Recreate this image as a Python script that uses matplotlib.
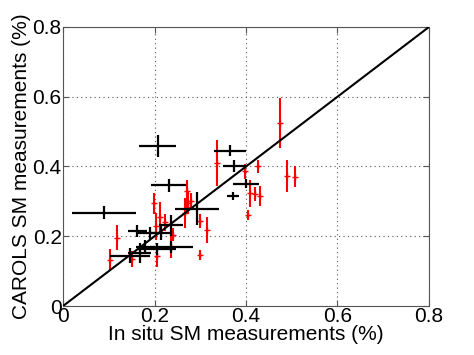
import matplotlib
matplotlib.use("Agg")
import matplotlib.pyplot as plt

plt.rcParams['font.family'] = ['Liberation Sans', 'DejaVu Sans']

# black crosses: in situ vs CAROLS with error in both directions
blk_x = [0.207, 0.365, 0.374, 0.231, 0.400, 0.372, 0.090, 0.292, 0.162,
         0.190, 0.215, 0.236, 0.205, 0.168, 0.146, 0.237, 0.180]
blk_y = [0.459, 0.445, 0.402, 0.346, 0.351, 0.315, 0.268, 0.279, 0.215,
         0.209, 0.209, 0.231, 0.164, 0.151, 0.144, 0.170, 0.170]
blk_xerr = [0.041, 0.035, 0.025, 0.038, 0.029, 0.013, 0.070, 0.048, 0.021,
            0.028, 0.022, 0.027, 0.041, 0.025, 0.044, 0.047, 0.020]
blk_yerr = [0.032, 0.016, 0.018, 0.018, 0.012, 0.011, 0.019, 0.047, 0.018,
            0.017, 0.019, 0.029, 0.017, 0.029, 0.022, 0.017, 0.020]

# red points: vertical error only
red_x = [0.474, 0.336, 0.397, 0.427, 0.490, 0.507, 0.408, 0.419, 0.430, 0.405,
         0.270, 0.274, 0.279, 0.266, 0.299, 0.314, 0.299, 0.199, 0.213, 0.203,
         0.223, 0.241, 0.237, 0.205, 0.119, 0.103, 0.150, 0.271]
red_y = [0.524, 0.410, 0.386, 0.400, 0.373, 0.371, 0.323, 0.321, 0.316, 0.261,
         0.330, 0.295, 0.300, 0.266, 0.244, 0.218, 0.146, 0.295, 0.256, 0.228,
         0.240, 0.205, 0.170, 0.142, 0.196, 0.132, 0.135, 0.285]
red_yerr = [0.071, 0.065, 0.022, 0.019, 0.045, 0.029, 0.038, 0.019, 0.029, 0.014,
            0.030, 0.031, 0.025, 0.043, 0.019, 0.038, 0.014, 0.030, 0.043, 0.038,
            0.025, 0.020, 0.033, 0.031, 0.036, 0.031, 0.024, 0.020]

ticks = [0, 0.2, 0.4, 0.6, 0.8]
tick_labels = ['0', '0.2', '0.4', '0.6', '0.8']

fig = plt.figure(figsize=(4.74, 3.55), dpi=100)
ax = fig.add_axes([0.133, 0.138, 0.772, 0.786])

ax.errorbar(red_x, red_y, yerr=red_yerr, fmt='+', color='red', ms=4,
            mew=1.0, elinewidth=1.5, capsize=0, zorder=3)
ax.errorbar(blk_x, blk_y, xerr=blk_xerr, yerr=blk_yerr, fmt='none',
            ecolor='black', elinewidth=1.6, capsize=0, zorder=4)
ax.plot([0, 0.8], [0, 0.8], color='black', lw=1.5, zorder=5)

ax.set_xlim(0, 0.8)
ax.set_ylim(0, 0.8)
ax.set_xticks(ticks)
ax.set_yticks(ticks)
ax.set_xticklabels(tick_labels)
ax.set_yticklabels(tick_labels)
ax.tick_params(direction='in', top=True, right=True, labelsize=15, length=4,
               color='#555555', pad=1)
ax.grid(True, linestyle=(0, (1, 3)), color='#555555', lw=0.8)
for s in ax.spines.values():
    s.set_color('#555555')
ax.set_xlabel('In situ SM measurements (%)', fontsize=15, labelpad=-1)
ax.set_ylabel('CAROLS SM measurements (%)', fontsize=15, labelpad=1)

fig.savefig('out.png', dpi=100)
